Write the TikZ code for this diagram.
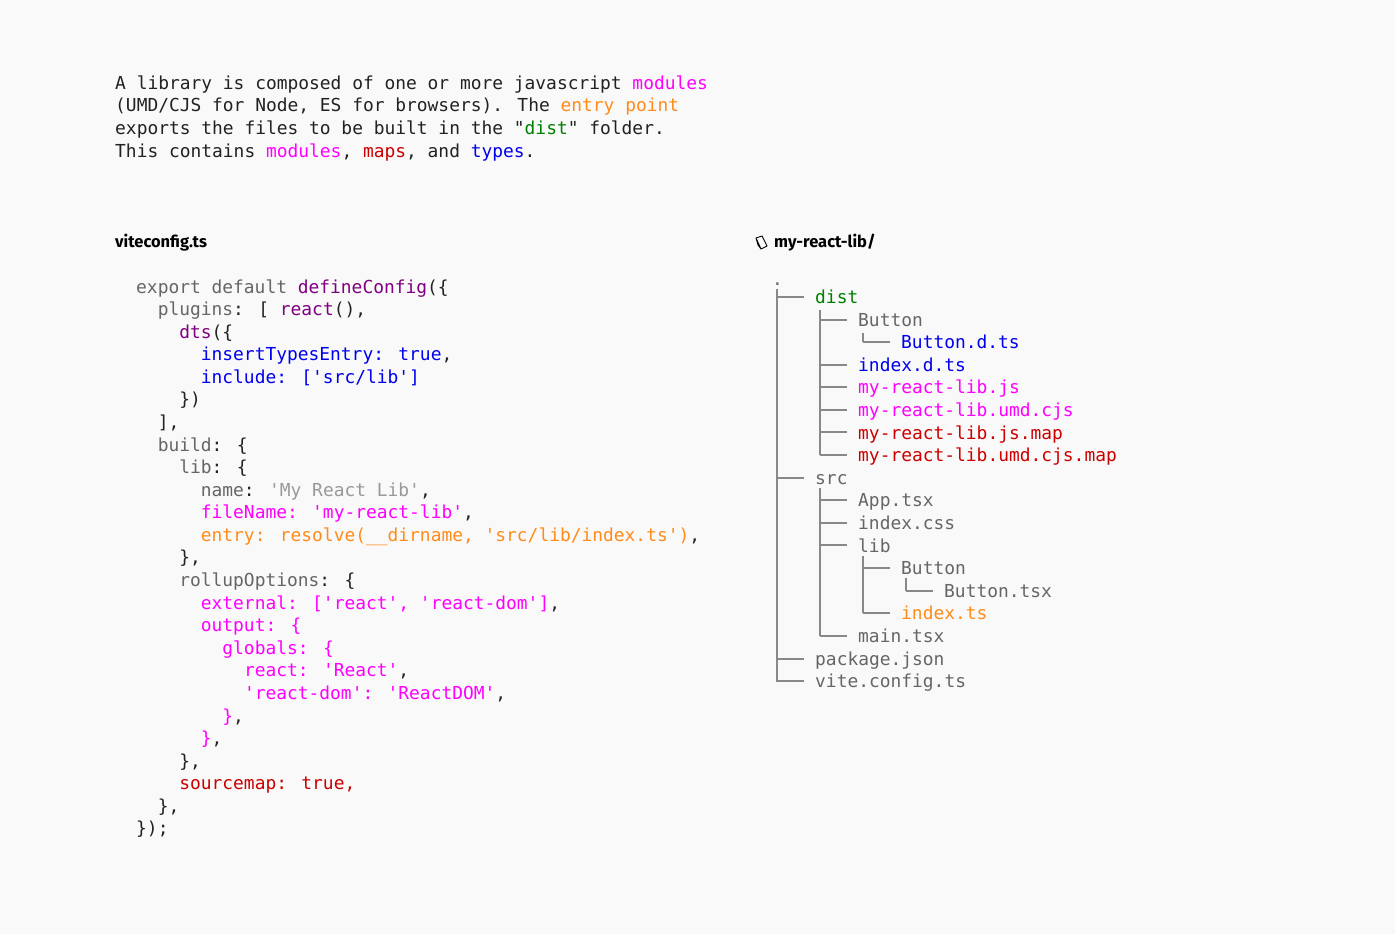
\documentclass[tikz,border=0pt]{standalone}
\usepackage{fontspec}
\setmainfont{Fira Sans}
\newfontfamily\mono{DejaVu Sans Mono}
\definecolor{bg}{HTML}{F9F9F9}
\definecolor{ink}{HTML}{222222}
\definecolor{gr}{HTML}{666666}
\definecolor{lg}{HTML}{999999}
\definecolor{pu}{HTML}{800080}
\definecolor{bl}{HTML}{0000EE}
\definecolor{mg}{HTML}{FF00FF}
\definecolor{og}{HTML}{FF8C1A}
\definecolor{rd}{HTML}{CC0000}
\definecolor{gn}{HTML}{008000}
\definecolor{tl}{HTML}{888888}
\newcommand{\q}{\textquotesingle}
\newcommand{\C}[2]{\textcolor{#1}{#2}}
\tikzset{
  code/.style={anchor=base west,inner sep=0pt,font=\mono\fontsize{17.9}{22}\selectfont,text=ink},
  ttl/.style={anchor=base west,inner sep=0pt,font=\fontsize{16.5}{20}\selectfont\bfseries,text=black},
  tline/.style={draw=tl,line width=1.1pt}
}
\begin{document}
\begin{tikzpicture}[x=1pt,y=-1pt]
\fill[bg] (0,0) rectangle (1395,934);
\useasboundingbox (0,0) rectangle (1395,934);
% intro
\node[code] (i1) at (115,89) {A library is composed of one or more javascript \C{mg}{modules}};
\node[code] (i2) at (115,111.5) {(UMD/CJS for Node, ES for browsers). The \C{og}{entry point}};
\node[code] (i3) at (115,134) {exports the files to be built in the "\C{gn}{dist}" folder.};
\node[code] (i4) at (115,157) {This contains \C{mg}{modules}, \C{rd}{maps}, and \C{bl}{types}.};
% titles
\node[ttl] (t1) at (115,247) {viteconfig.ts};
\node[ttl] (t2) at (774,247) {my-react-lib/};
\draw[line width=0.9pt,black,line join=round] (756,238) -- (762,236) -- (767,246) -- (761,249) -- cycle (756,238) -- (758,245) -- (761,249);
% code
\foreach \n/\i/\t in {
 1/0/{\C{gr}{export default }\C{pu}{defineConfig}(\{},
 2/2/{\C{gr}{plugins}: [ \C{pu}{react}(),},
 3/4/{\C{pu}{dts}(\{},
 4/6/{\C{bl}{insertTypesEntry: true},},
 5/6/{\C{bl}{include: [\q src/lib\q]}},
 6/4/{\})},
 7/2/{],},
 8/2/{\C{gr}{build}: \{},
 9/4/{\C{gr}{lib}: \{},
 10/6/{\C{gr}{name}: \C{lg}{\q My React Lib\q},},
 11/6/{\C{mg}{fileName: \q my-react-lib\q},},
 12/6/{\C{og}{entry: resolve(\_\_dirname, \q src/lib/index.ts\q)},},
 13/4/{\},},
 14/4/{\C{gr}{rollupOptions}: \{},
 15/6/{\C{mg}{external: [\q react\q, \q react-dom\q]},},
 16/6/{\C{mg}{output: \{}},
 17/8/{\C{mg}{globals: \{}},
 18/10/{\C{mg}{react: \q React\q},},
 19/10/{\C{mg}{\q react-dom\q: \q ReactDOM\q},},
 20/8/{\C{mg}{\}},},
 21/6/{\C{mg}{\}},},
 22/4/{\},},
 23/4/{\C{rd}{sourcemap: true,}},
 24/2/{\},},
 25/0/{\});}}
 \node[code] (c\n) at ({136+10.78*\i},{293+22.58*(\n-1)}) {\t};
% tree
\node[code,text=gr] (root) at (772,285) {.};
\foreach \n/\lx/\t in {
 1/815/{\C{gn}{dist}},
 2/858/{\C{gr}{Button}},
 3/901/{\C{bl}{Button.d.ts}},
 4/858/{\C{bl}{index.d.ts}},
 5/858/{\C{mg}{my-react-lib.js}},
 6/858/{\C{mg}{my-react-lib.umd.cjs}},
 7/858/{\C{rd}{my-react-lib.js.map}},
 8/858/{\C{rd}{my-react-lib.umd.cjs.map}},
 9/815/{\C{gr}{src}},
 10/858/{\C{gr}{App.tsx}},
 11/858/{\C{gr}{index.css}},
 12/858/{\C{gr}{lib}},
 13/901/{\C{gr}{Button}},
 14/944/{\C{gr}{Button.tsx}},
 15/901/{\C{og}{index.ts}},
 16/858/{\C{gr}{main.tsx}},
 17/815/{\C{gr}{package.json}},
 18/815/{\C{gr}{vite.config.ts}}}
 \node[code] (r\n) at (\lx,{303.5+22.6*(\n-1)}) {\t};
% vertical lines
\draw[tline] (777,289) -- (777,682);
\draw[tline] (820,310) -- (820,455);
\draw[tline] (820,488) -- (820,636);
\draw[tline] (863,333) -- (863,342);
\draw[tline] (863,556) -- (863,613);
\draw[tline] (906,578) -- (906,591);
% branches
\foreach \y in {297,478,659,681} \draw[tline] (777,\y) -- (804,\y);
\foreach \y in {320,365,387,410,432,455,500,523,545,636} \draw[tline] (820,\y) -- (847,\y);
\foreach \y in {342,568,613} \draw[tline] (863,\y) -- (890,\y);
\draw[tline] (906,591) -- (933,591);
\end{tikzpicture}
\end{document}
